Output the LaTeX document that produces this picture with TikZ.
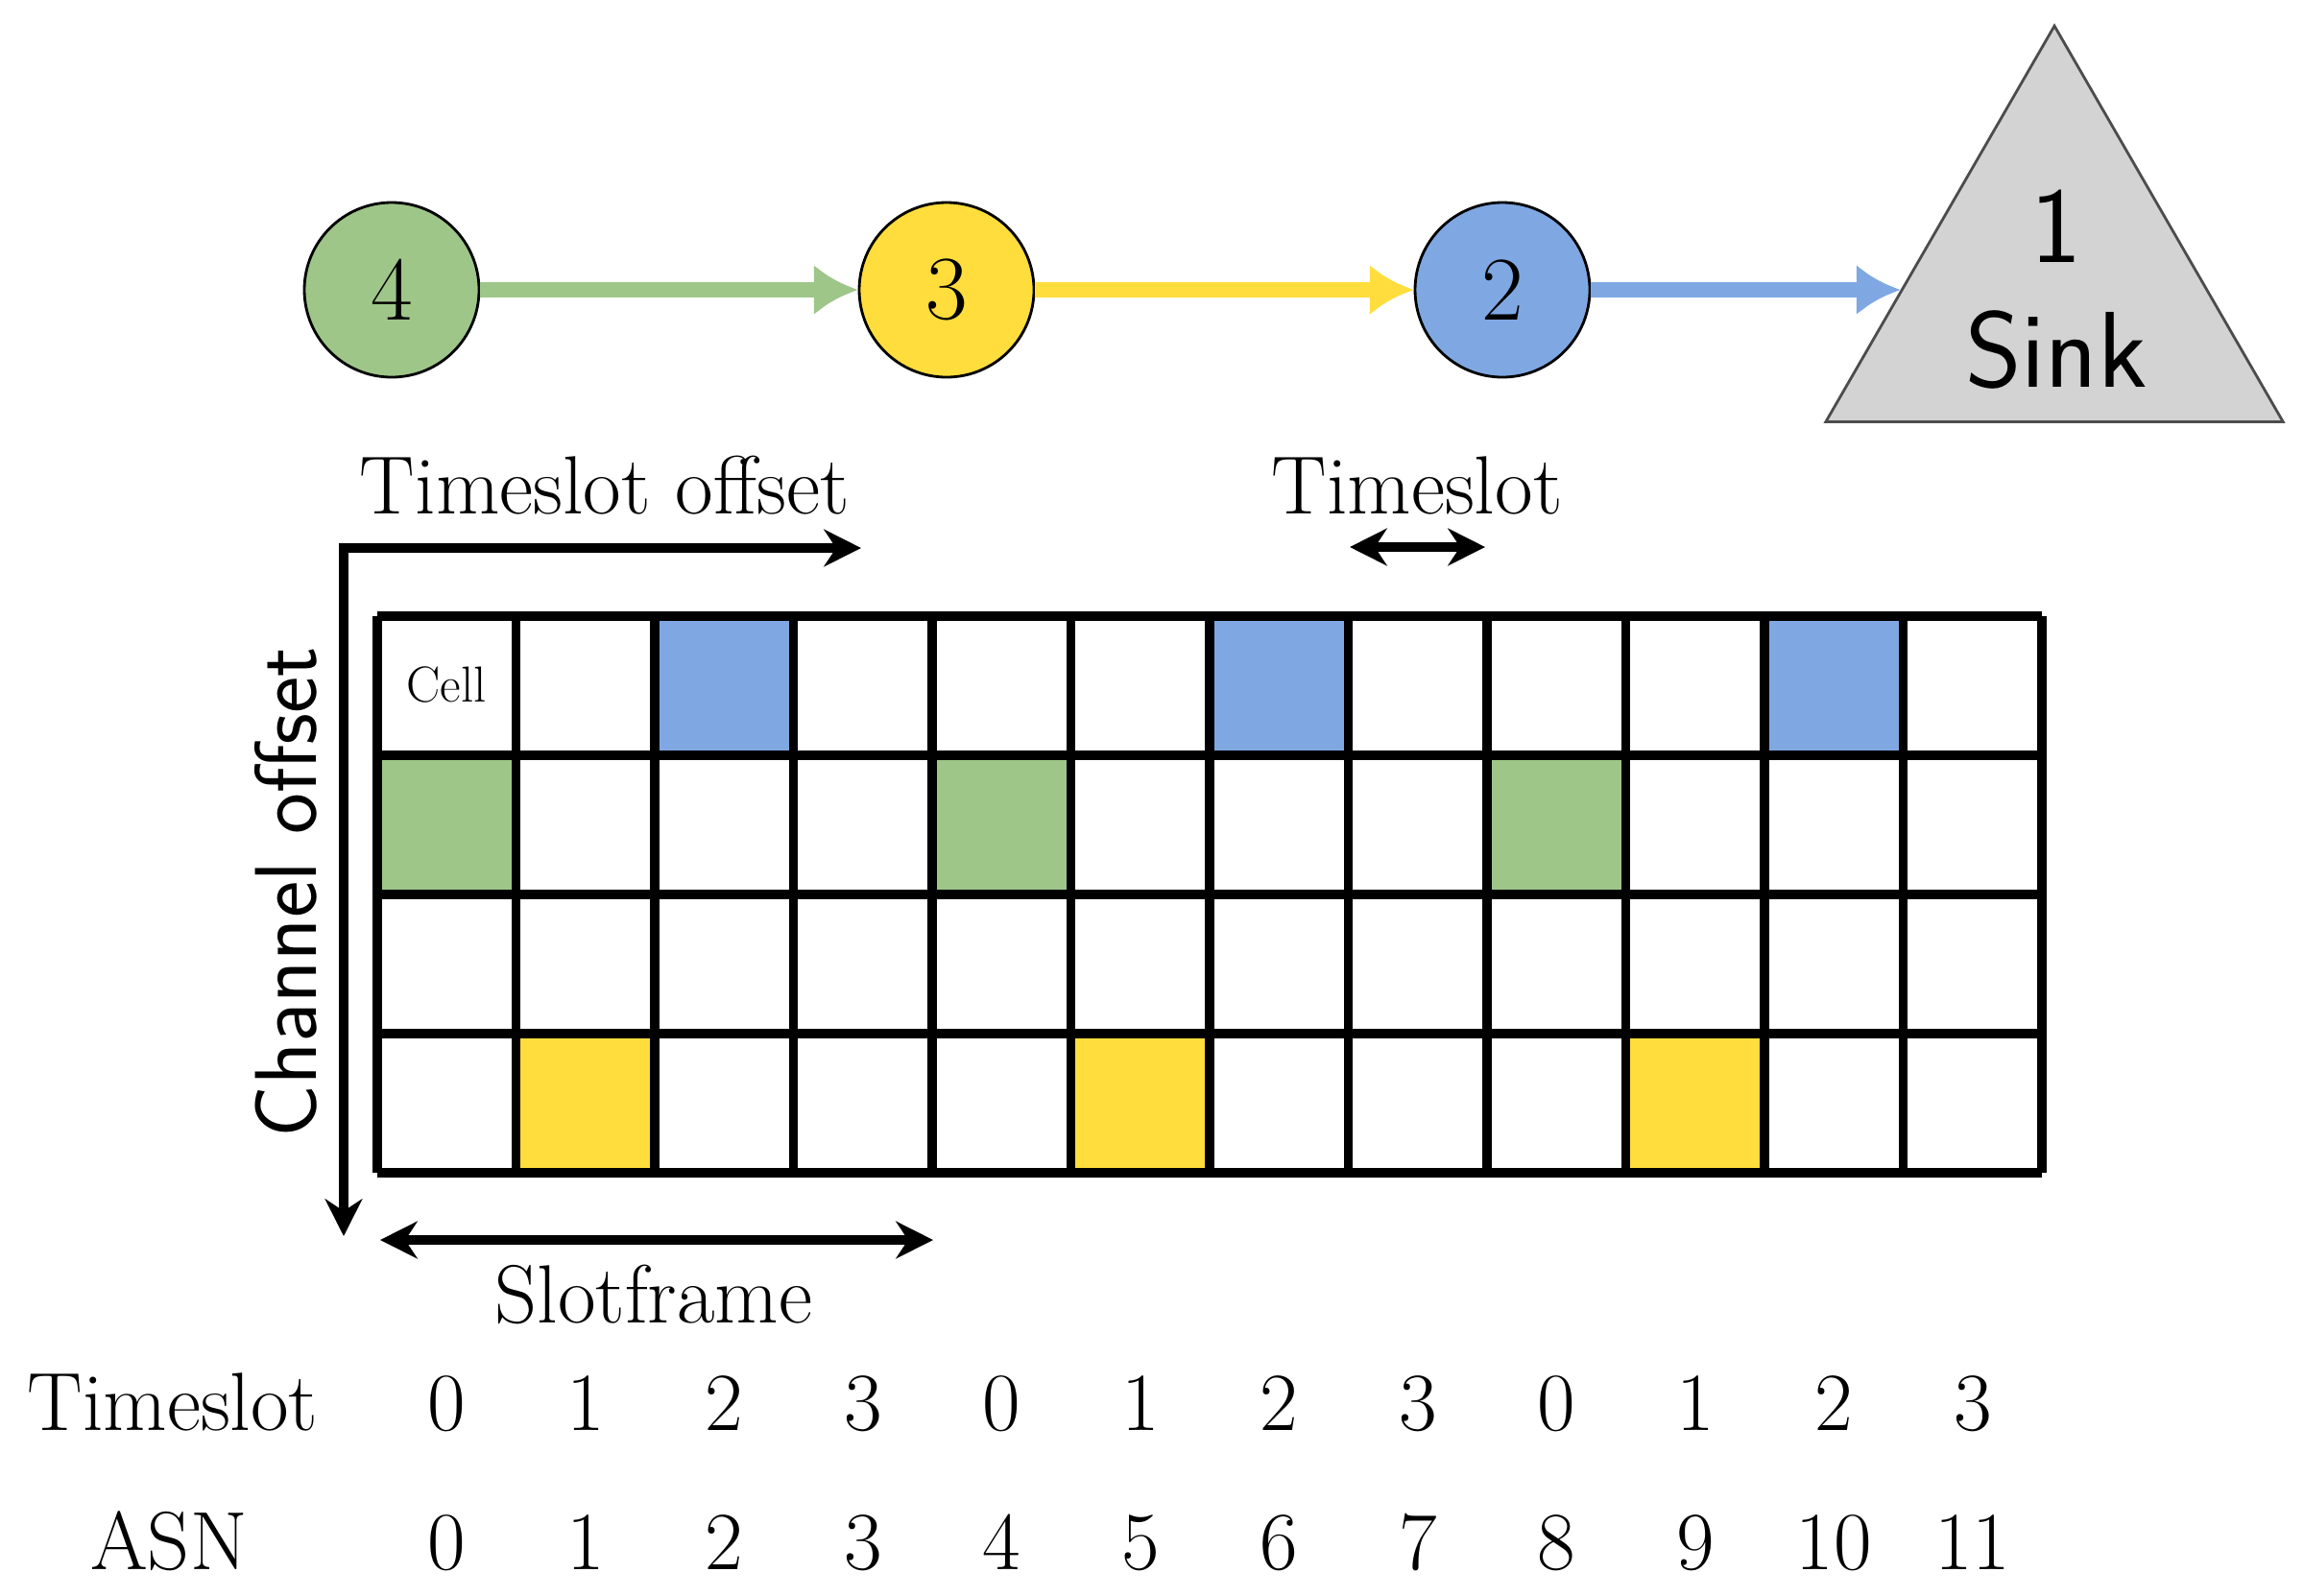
\documentclass[tikz,border=0pt]{standalone}
\usepackage{fontspec}
\usepackage{tikz}
\usetikzlibrary{arrows.meta,shapes.geometric}

\definecolor{motegreen}{HTML}{9EC689}
\definecolor{moteyellow}{HTML}{FFDD3C}
\definecolor{moteblue}{HTML}{7FA8E3}
\definecolor{sinkgray}{HTML}{D3D3D3}

\tikzset{
  mote/.style={circle, draw=black, line width=0.8pt, minimum size=1.82cm, inner sep=0pt, font=\fontsize{27}{30}\selectfont},
  link/.style={line width=4.8pt, -{Latex[length=13pt,width=15pt]}},
  axis/.style={line width=3pt, line join=miter, {Stealth[length=11pt,width=11pt]}-{Stealth[length=11pt,width=11pt]}},
  span/.style={line width=2.8pt, {Stealth[length=11pt,width=11pt]}-{Stealth[length=11pt,width=11pt]}},
  txt/.style={anchor=base, inner sep=0pt, font=\fontsize{24.5}{28}\selectfont},
  rowtxt/.style={anchor=base, inner sep=0pt, font=\fontsize{24.5}{28}\selectfont},
}

\begin{document}
\begin{tikzpicture}
\useasboundingbox (0,0) rectangle (24,-16.62);

\node[mote, fill=motegreen] (N4) at (4.08,-3.02) {4};
\node[mote, fill=moteyellow] (N3) at (9.86,-3.02) {3};
\node[mote, fill=moteblue] (N2) at (15.65,-3.02) {2};
\node[regular polygon, regular polygon sides=3, draw=black!70, line width=0.8pt, fill=sinkgray, minimum size=5.5cm, inner sep=0pt] (N1) at (21.40,-3.02) {};
\node[align=center, inner sep=0pt, font=\sffamily\fontsize{32}{37}\selectfont] (sink) at (21.42,-3.02) {1\\Sink};

\path[link, color=motegreen] (N4) edge [] (N3);
\path[link, color=moteyellow] (N3) edge [] (N2);
\path[link, color=moteblue] (N2) edge [] (N1);

% slotframe cells
\begin{scope}[shift={(3.93,-6.42)}, xscale=1.445, yscale=-1.45]
\fill[moteblue] (2,0) rectangle (3,1);
\fill[moteblue] (6,0) rectangle (7,1);
\fill[moteblue] (10,0) rectangle (11,1);
\fill[motegreen] (0,1) rectangle (1,2);
\fill[motegreen] (4,1) rectangle (5,2);
\fill[motegreen] (8,1) rectangle (9,2);
\fill[moteyellow] (1,3) rectangle (2,4);
\fill[moteyellow] (5,3) rectangle (6,4);
\fill[moteyellow] (9,3) rectangle (10,4);
\draw[line width=2.6pt] (0,0) grid (12,4);
\node[anchor=base, inner sep=0pt, font=\fontsize{15}{18}\selectfont] (cell) at (0.5,0.62) {Cell};
\end{scope}

\coordinate (O) at (3.58,-5.71);
\coordinate (xend) at (8.97,-5.71);
\coordinate (yend) at (3.58,-12.88);
\draw[axis] (xend) -- (O) -- (yend);

\coordinate (tsl) at (14.06,-5.70);
\coordinate (tsr) at (15.47,-5.70);
\draw[span] (tsl) -- (tsr);

\coordinate (sfl) at (3.96,-12.92);
\coordinate (sfr) at (9.72,-12.92);
\draw[span] (sfl) -- (sfr);

\node[txt] (tsoffset) at (6.30,-5.35) {Timeslot offset};
\node[txt] (tslot) at (14.76,-5.35) {Timeslot};
\node[txt] (sframe) at (6.81,-13.78) {Slotframe};
\node[rotate=90, inner sep=0pt, font=\sffamily\fontsize{26}{30}\selectfont] (choffset) at (2.98,-9.30) {Channel offset};

\node[rowtxt] (tsrow) at (1.80,-14.90) {Timeslot};
\node[rowtxt] (asnrow) at (1.76,-16.35) {ASN};
\foreach \i in {0,...,11} {
  \pgfmathtruncatemacro\ts{mod(\i,4)}
  \node[rowtxt] (ts\i) at (4.6525+1.445*\i,-14.90) {\ts};
  \node[rowtxt] (asn\i) at (4.6525+1.445*\i,-16.35) {\i};
}

\end{tikzpicture}
\end{document}
